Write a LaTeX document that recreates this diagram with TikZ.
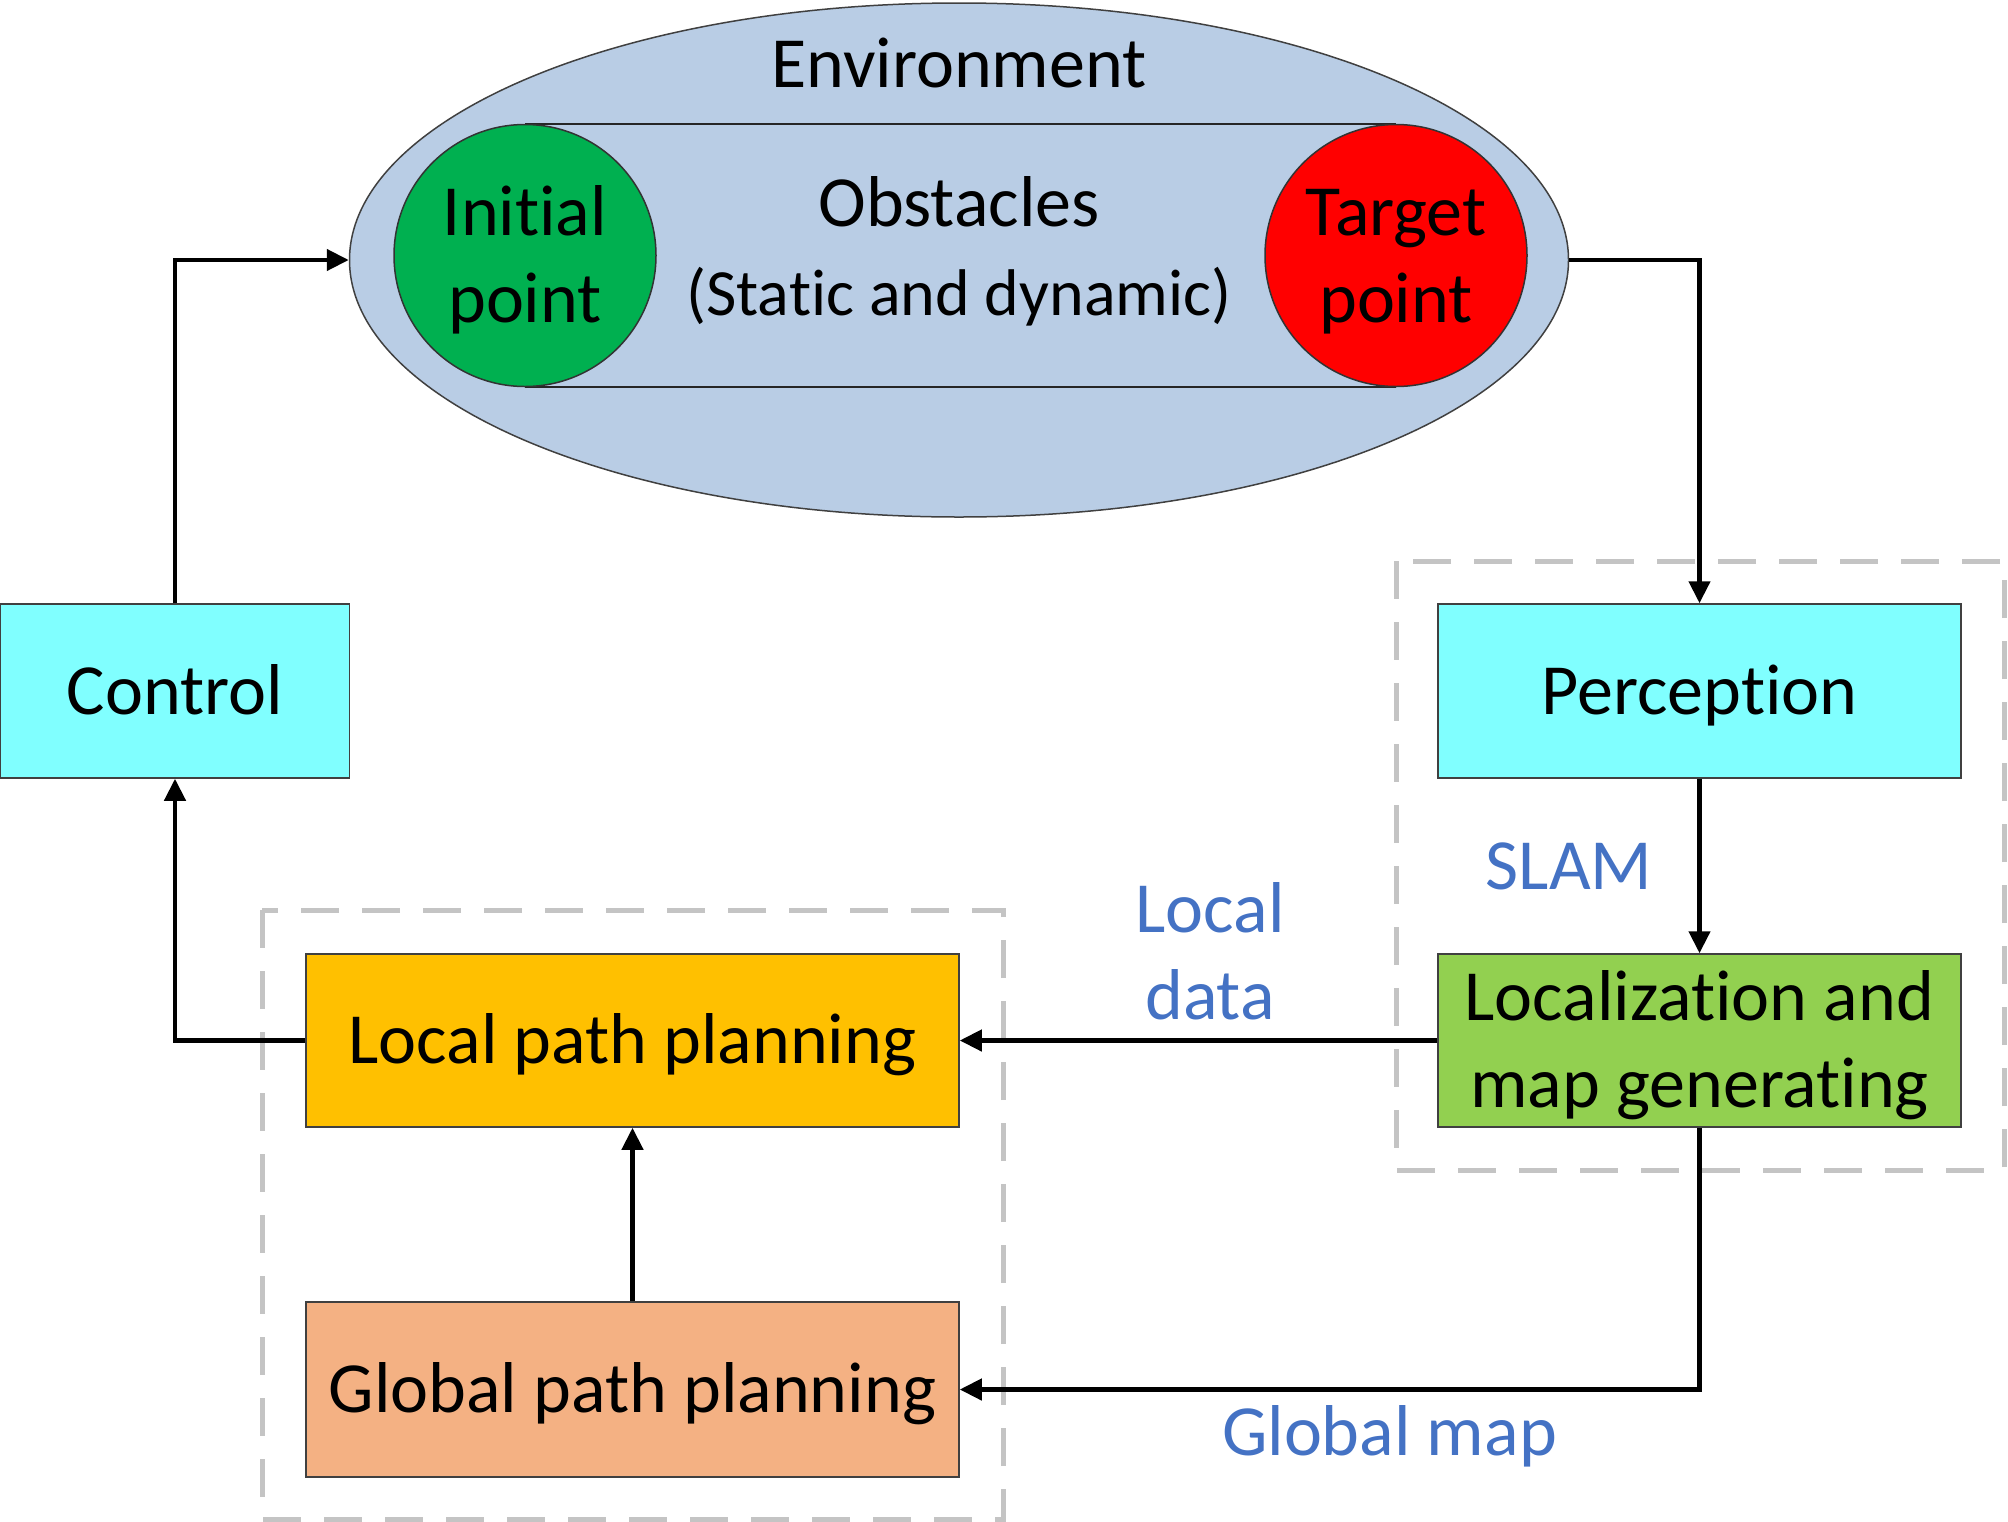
\documentclass[tikz,border=0pt]{standalone}
\usepackage{fontspec}
\setmainfont[RawFeature={-liga;-clig;-calt;-dlig}]{Carlito}
\usetikzlibrary{shapes.geometric,arrows.meta}
\definecolor{envblue}{HTML}{B9CDE5}
\definecolor{ptgreen}{HTML}{00B050}
\definecolor{ptred}{HTML}{FF0000}
\definecolor{boxcyan}{HTML}{80FFFF}
\definecolor{boxgreen}{HTML}{92D050}
\definecolor{boxorange}{HTML}{FFC000}
\definecolor{boxsalmon}{HTML}{F4B183}
\definecolor{lblblue}{HTML}{4472C4}
\definecolor{dashgray}{HTML}{C4C4C4}
\definecolor{edgegray}{HTML}{404040}
\newcommand\cs{\rule[-0.2em]{0pt}{1.044em}}
\begin{document}
\begin{tikzpicture}[x=1pt,y=1pt,
  every node/.style={font=\fontsize{36}{43.5}\selectfont},
  procbox/.style={draw=edgegray,line width=0.75pt,rectangle,inner sep=0pt,align=center},
  ptcircle/.style={draw=black!80,line width=0.75pt,circle,minimum size=131pt,inner sep=0pt,align=center},
  lbl/.style={text=lblblue,inner sep=0pt,align=center},
  txt/.style={inner sep=0pt,align=center},
  groupbox/.style={draw=dashgray,line width=2.5pt,dash pattern=on 19pt off 11.5pt},
  arr/.style={line width=2.2pt,-{Triangle[length=11pt,width=10.5pt]}}]
\useasboundingbox (0,0) rectangle (1004,-760.5);
% groups
\draw[groupbox] (698,-280.5) rectangle (1002,-585);
\draw[groupbox] (131,-455) rectangle (501.5,-759.5);
% environment
\node[ellipse,draw=edgegray,line width=0.75pt,fill=envblue,minimum width=609.5pt,minimum height=257pt,inner sep=0pt] (env) at (479.5,-130) {};
\node[txt] (envtxt) at (479.5,-32) {\cs Environment};
\coordinate (capTL) at (262.5,-62);
\coordinate (capTR) at (698,-62);
\coordinate (capBL) at (262.5,-193.5);
\coordinate (capBR) at (698,-193.5);
\draw[line width=0.75pt,black!85] (capTL) -- (capTR) (capBL) -- (capBR);
\node[txt] (obst) at (479.5,-123.5) {\cs Obstacles\\[1pt]{\fontsize{33}{40}\selectfont\cs (Static and dynamic)}};
\node[ptcircle,fill=ptgreen] (init) at (262.5,-127.75) {\cs Initial\\\cs point};
\node[ptcircle,fill=ptred] (target) at (698,-127.75) {\cs Target\\\cs point};
% boxes
\node[procbox,fill=boxcyan,minimum width=174.5pt,minimum height=87pt] (control) at (87.5,-345.5) {\cs Control};
\node[procbox,fill=boxcyan,minimum width=261.5pt,minimum height=87pt] (perc) at (849.75,-345.5) {\cs Perception};
\node[procbox,fill=boxgreen,minimum width=261.5pt,minimum height=86.5pt] (loc) at (849.75,-520.25) {\cs Localization and\\\cs map generating};
\node[procbox,fill=boxorange,minimum width=326.5pt,minimum height=86.5pt] (local) at (316.25,-520.25) {\cs Local path planning};
\node[procbox,fill=boxsalmon,minimum width=326.5pt,minimum height=87.5pt] (global) at (316.25,-694.75) {\cs Global path planning};
% labels
\node[lbl] (slam) at (784.5,-433) {\cs SLAM};
\node[lbl] (ldata) at (605,-476.25) {\cs Local\\\cs data};
\node[lbl] (gmap) at (694.75,-716) {\cs Global map};
% connectors
\draw[arr] (control.north) |- (env.west);
\draw[arr] (env.east) -| (perc.north);
\draw[arr] (perc.south) -- (loc.north);
\draw[arr] (loc.west) -- (local.east);
\draw[arr] (loc.south) |- (global.east);
\draw[arr] (global.north) -- (local.south);
\draw[arr] (local.west) -| (control.south);
\end{tikzpicture}
\end{document}
